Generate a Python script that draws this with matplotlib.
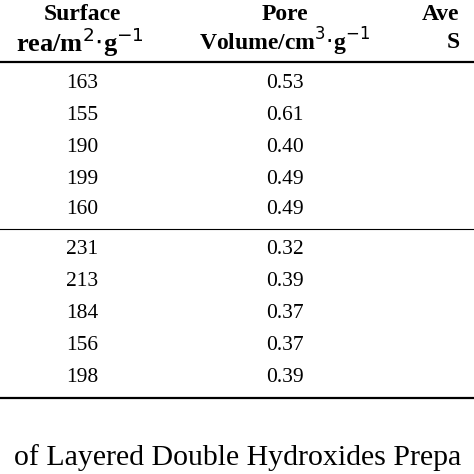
import matplotlib.pyplot as plt
from matplotlib.lines import Line2D

W = H = 474
surface = ["163", "155", "190", "199", "160", "231", "213", "184", "156", "198"]
pore = ["0.53", "0.61", "0.40", "0.49", "0.49", "0.32", "0.39", "0.37", "0.37", "0.39"]
row_y = [83, 115, 147, 179, 210, 250, 282, 313, 345, 377]

fig = plt.figure(figsize=(W / 100, H / 100), dpi=100)
font = dict(family="Liberation Serif", color="black")


def t(x, y, s, ha="center", size=15.5, **kw):
    fig.text(x / W, 1 - y / H, s, ha=ha, va="center", fontsize=size, **font, **kw)


def hline(y, lw):
    fig.add_artist(Line2D([0, 1], [1 - y / H, 1 - y / H], color="black", lw=lw))


t(82, 15, "Surface", fontweight="bold", size=17)
t(80, 42, r"rea/m$^{\mathrm{2}}$$\cdot$g$^{\mathrm{-1}}$", fontweight="bold", size=19)
t(285, 15, "Pore", fontweight="bold", size=17)
t(285, 42, r"Volume/cm$^{\mathrm{3}}$$\cdot$g$^{\mathrm{-1}}$", fontweight="bold", size=17)
t(422, 15, "Ave", fontweight="bold", ha="left", size=17)
t(447, 42, "S", fontweight="bold", ha="left", size=17)

hline(62, 1.6)
hline(229, 0.8)
hline(398, 1.6)

for y, s, p in zip(row_y, surface, pore):
    t(82, y, s)
    t(285, y, p)

t(14, 458, "of Layered Double Hydroxides Prepa", ha="left", size=21.5)

fig.savefig("out.png", dpi=100)
